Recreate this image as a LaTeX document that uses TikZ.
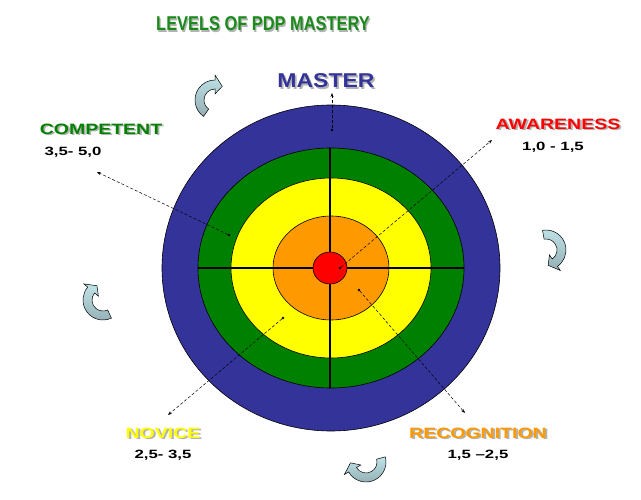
\documentclass[tikz,border=0pt]{standalone}
\usepackage{fontspec}
\setmainfont{Liberation Sans}
\usetikzlibrary{arrows.meta,shapes.geometric}
\definecolor{cblue}{HTML}{333399}
\definecolor{cgreen}{HTML}{008000}
\definecolor{cyel}{HTML}{FFFF00}
\definecolor{corange}{HTML}{FF9900}
\definecolor{cred}{HTML}{FF0000}
\definecolor{ctitle}{HTML}{1A8A1A}
\definecolor{arrowfill}{HTML}{BFE3E8}
\definecolor{arrowdark}{HTML}{93AEB3}
\tikzset{
  ring/.style={draw=black,line width=0.6pt},
  ptr/.style={densely dashed,line width=0.5pt,-{Stealth[length=4pt,width=3pt]}},
  dot/.style={fill=black,diamond,inner sep=0pt,minimum size=3pt},
  lab/.style={font=\bfseries\fontsize{15}{17}\selectfont,xscale=1.3},
  num/.style={font=\bfseries\fontsize{12}{14}\selectfont,text=black,xscale=1.4},
  pics/carrow/.style n args={3}{code={
    \path[draw=black,line width=0.5pt,top color=arrowfill,bottom color=arrowdark]
      (#1:20) arc[start angle=#1,end angle=#2,radius=20]
      -- (#2:25) -- (#3:15.5) -- (#2:6) -- (#2:11)
      arc[start angle=#2,end angle=#1,radius=11] -- cycle;
  }}
}
\newcommand{\shtext}[4]{% name, position, style, text
  \node[#3,text=gray!60,xshift=1.5pt,yshift=-1.5pt] at (#2) {#4};
  \node[#3] (#1) at (#2) {#4};}
\begin{document}
\begin{tikzpicture}[x=1pt,y=-1pt]
\useasboundingbox (0,0) rectangle (641,500);
\coordinate (c) at (331,268);
\fill[cblue,ring] (c) ellipse[x radius=169,y radius=163];
\fill[cgreen,ring] (c) ellipse[x radius=133,y radius=120];
\fill[cyel,ring] (c) ellipse[x radius=100,y radius=90];
\fill[corange,ring] (c) ellipse[x radius=58,y radius=52];
\draw[line width=1.2pt] (198,268) -- (464,268);
\draw[line width=1.2pt] (330,148) -- (330,388);
\fill[cred,ring] (330,268) ellipse[x radius=17,y radius=16];
% title & labels
\shtext{title}{263,24}{font=\bfseries\fontsize{20}{23}\selectfont,text=ctitle,xscale=0.82}{LEVELS OF PDP MASTERY}
\shtext{master}{326,81}{font=\bfseries\fontsize{20}{23}\selectfont,text=cblue,xscale=1.15}{MASTER}
\shtext{aware}{558,124}{lab,text=cred}{AWARENESS}
\node[num] (n1) at (553,147) {1,0 - 1,5};
\shtext{comp}{101,129}{lab,text=cgreen}{COMPETENT}
\node[num] (n2) at (73,152) {3,5- 5,0};
\shtext{nov}{163,433}{lab,text=cyel}{NOVICE}
\node[num] (n3) at (163,455) {2,5- 3,5};
\shtext{rec}{478,433}{lab,text=corange}{RECOGNITION}
\node[num] (n4) at (478,455) {1,5 –2,5};
% pointers
\node[dot] (d1) at (332,130) {}; \coordinate (e1) at (332,93);
\node[dot] (d2) at (340,268) {}; \coordinate (e2) at (492,140);
\node[dot] (d3) at (229,235) {}; \coordinate (e3) at (97,172);
\node[dot] (d4) at (283,318) {}; \coordinate (e4) at (168,415);
\node[dot] (d5) at (359,290) {}; \coordinate (e5) at (465,413);
\foreach \a/\b in {d1/e1,d2/e2,d3/e3,d4/e4,d5/e5} \draw[ptr] (\a) -- (\b);
% curved arrows
\pic at (215,100) {carrow={-235}{-90}{-62}};
\pic at (103,300) {carrow={-295}{-140}{-113}};
\pic at (546,250) {carrow={-100}{55}{82}};
\pic at (366,462) {carrow={-15}{150}{177}};
\end{tikzpicture}
\end{document}
